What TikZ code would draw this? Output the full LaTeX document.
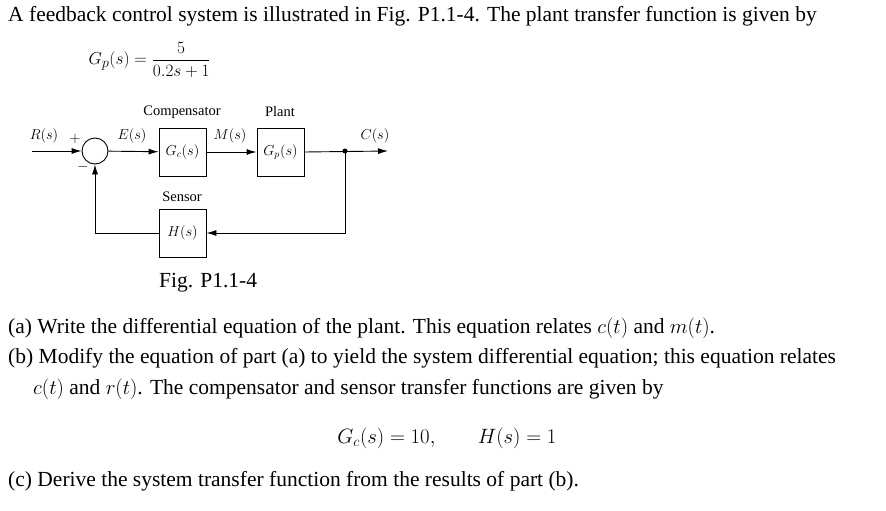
\documentclass[tikz,border=0pt]{standalone}
\usepackage{fontspec}
\setmainfont{Liberation Serif}
\usetikzlibrary{arrows.meta}
\begin{document}
\begin{tikzpicture}[x=1pt,y=-1pt,
  blk/.style={draw,line width=0.9pt,minimum width=47pt,minimum height=48pt,inner sep=0pt,font=\fontsize{14.5}{16}\selectfont},
  lab/.style={font=\fontsize{14.5}{16}\selectfont},
  txt/.style={anchor=west,font=\fontsize{21.5}{24}\selectfont,inner sep=0pt},
  sig/.style={-{Latex[length=10pt,width=6pt]}},
  line/.style={draw,line width=0.9pt}]
\useasboundingbox (0,0) rectangle (886,511);
\node[txt] (t0) at (8,16) {A feedback control system is illustrated in Fig. P1.1-4. The plant transfer function is given by};
\node[anchor=west,font=\fontsize{19}{22}\selectfont] (gp) at (85,60) {$G_p(s)=\displaystyle\frac{5}{0.2s+1}$};
\node[circle,draw,line width=0.9pt,minimum size=26pt,inner sep=0pt] (sum) at (95,151) {};
\node[blk] (gc) at (182.5,152) {$G_c(s)$};
\node[blk] (gpb) at (280.5,152) {$G_p(s)$};
\node[blk] (h) at (182.5,233) {$H(s)$};
\coordinate (in) at (32,151);
\coordinate (j) at (345,151);
\coordinate (out) at (388,151);
\fill (j) circle (2.5pt);
\draw[line,sig] (in) -- (sum);
\draw[line,sig] (sum) -- (gc);
\draw[line,sig] (gc) -- (gpb);
\draw[line,sig] (gpb.east) -- (out);
\draw[line,sig] (j) |- (h);
\draw[line,sig] (h) -| (sum);
\node[lab] (lr) at (44,136) {$R(s)$};
\node[lab] (lp) at (75,139) {$+$};
\node[lab] (lm) at (83,167) {$-$};
\node[lab] (le) at (132,136) {$E(s)$};
\node[lab] (lmm) at (230,136) {$M(s)$};
\node[lab] (lc) at (375,136) {$C(s)$};
\node[lab] (lcomp) at (182,112) {Compensator};
\node[lab] (lplant) at (280,112) {Plant};
\node[lab] (lsens) at (182,197) {Sensor};
\node[txt] (fig) at (159,283) {Fig. P1.1-4};
\node[txt] (a) at (8,328) {(a) Write the differential equation of the plant. This equation relates $c(t)$ and $m(t)$.};
\node[txt] (b) at (8,358) {(b) Modify the equation of part (a) to yield the system differential equation; this equation relates};
\node[txt] (b2) at (33,389) {$c(t)$ and $r(t)$. The compensator and sensor transfer functions are given by};
\node[font=\fontsize{19.5}{22}\selectfont] (eq) at (447,438) {$G_c(s)=10,\qquad H(s)=1$};
\node[txt] (c) at (8,481) {(c) Derive the system transfer function from the results of part (b).};
\end{tikzpicture}
\end{document}
